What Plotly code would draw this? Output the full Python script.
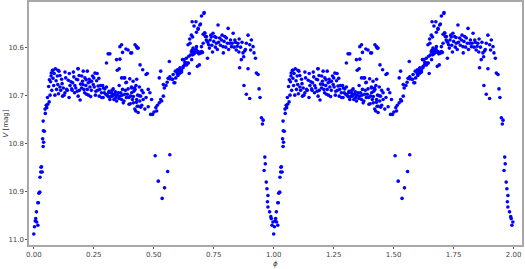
import plotly.graph_objects as go

# One cycle of the light curve: orbital phase (0..1) and V magnitude
phase = [
    # primary-eclipse egress
    0.000, 0.003, 0.008, 0.006, 0.011, 0.017, 0.012, 0.017, 0.021, 0.025, 0.019,
    0.026, 0.029, 0.032, 0.035, 0.030, 0.039, 0.041, 0.037, 0.040, 0.044, 0.039,
    0.048, 0.047, 0.052, 0.058, 0.054, 0.064, 0.057,
    # plateau start
    0.062, 0.065, 0.068, 0.070, 0.072, 0.075, 0.078, 0.080, 0.083, 0.085, 0.088,
    0.090, 0.093, 0.095, 0.098, 0.100, 0.103, 0.105, 0.073, 0.080, 0.101,
    # plateau
    0.109, 0.116, 0.123, 0.109, 0.130, 0.120, 0.137, 0.144, 0.151, 0.158, 0.162,
    0.167, 0.171, 0.178, 0.181, 0.185, 0.189, 0.195, 0.199, 0.203, 0.209, 0.213,
    0.217, 0.220, 0.227, 0.231, 0.234, 0.237, 0.241, 0.248, 0.250, 0.255, 0.259,
    0.264, 0.268, 0.273, 0.275, 0.282, 0.287, 0.289, 0.296, 0.300, 0.303, 0.310,
    0.314, 0.317, 0.324, 0.328, 0.331, 0.334, 0.338, 0.342, 0.345, 0.352, 0.356,
    0.359, 0.366, 0.370, 0.373, 0.379, 0.384, 0.386, 0.393, 0.397, 0.403, 0.407,
    0.411, 0.417, 0.421, 0.425, 0.431, 0.435, 0.439, 0.386, 0.379, 0.400, 0.414,
    0.112, 0.118, 0.126, 0.133, 0.140, 0.147, 0.155, 0.160, 0.165, 0.170, 0.175,
    0.183, 0.190, 0.193, 0.200, 0.205, 0.212, 0.218, 0.223, 0.228, 0.235, 0.240,
    0.245, 0.252, 0.257, 0.262, 0.266, 0.271, 0.278, 0.283, 0.290, 0.294, 0.184,
    0.305, 0.312, 0.320, 0.326, 0.333, 0.340, 0.348, 0.355, 0.362, 0.368, 0.376,
    0.382, 0.390, 0.396, 0.402, 0.408, 0.415, 0.420, 0.428, 0.433, 0.442, 0.446,
    0.450,
    # upper scattered points
    0.359, 0.366, 0.317, 0.310, 0.303, 0.345, 0.359, 0.370, 0.384, 0.393, 0.404,
    0.428, 0.435, 0.348, 0.356, 0.375, 0.366, 0.185, 0.206, 0.223, 0.130, 0.148,
    0.422, 0.431, 0.408, 0.443, 0.454, 0.468, 0.473,
    # dip around 0.45-0.55
    0.429, 0.426, 0.408, 0.422, 0.440, 0.456, 0.445, 0.456, 0.468, 0.477, 0.484,
    0.491, 0.429, 0.415, 0.436, 0.450, 0.463, 0.477, 0.487, 0.495, 0.501, 0.509,
    0.515, 0.523, 0.529, 0.533, 0.512, 0.540, 0.544, 0.540, 0.551, 0.556, 0.529,
    0.523,
    # faint outliers
    0.506, 0.567, 0.558, 0.519, 0.545, 0.535,
    # rise to maximum
    0.565, 0.567, 0.579, 0.584, 0.592, 0.598, 0.602, 0.609, 0.606, 0.616, 0.623,
    0.630, 0.620, 0.637, 0.644, 0.648, 0.658, 0.662, 0.667, 0.676, 0.671, 0.678,
    0.685, 0.692, 0.690, 0.560, 0.567, 0.576, 0.588, 0.581, 0.590, 0.599, 0.601,
    0.608, 0.615, 0.622, 0.629, 0.632, 0.626, 0.636, 0.643, 0.646, 0.654, 0.657,
    0.660, 0.664, 0.668, 0.674, 0.678, 0.682, 0.692, 0.699, 0.685, 0.688, 0.696,
    0.703, 0.671,
    # maximum
    0.651, 0.662, 0.685, 0.676, 0.695, 0.709, 0.713, 0.720, 0.723, 0.706, 0.699,
    0.643, 0.650, 0.657, 0.668, 0.660, 0.678, 0.685, 0.692, 0.699, 0.710, 0.706,
    0.712, 0.715, 0.719, 0.724, 0.729, 0.738, 0.740, 0.747, 0.754, 0.761, 0.768,
    0.775, 0.782, 0.789, 0.796, 0.803, 0.810, 0.817, 0.824, 0.831, 0.838, 0.844,
    0.851, 0.856, 0.858, 0.865, 0.872, 0.879, 0.886, 0.893, 0.900, 0.904, 0.907,
    0.914, 0.918, 0.924, 0.928, 0.893,
    0.725, 0.732, 0.735, 0.742, 0.745, 0.750, 0.757, 0.760, 0.765, 0.770, 0.778,
    0.785, 0.790, 0.793, 0.800, 0.807, 0.812, 0.820, 0.827, 0.835, 0.840, 0.848,
    0.855, 0.862, 0.868, 0.875, 0.882,
    # descent and primary-eclipse ingress
    0.876, 0.886, 0.900, 0.935, 0.939, 0.943, 0.949, 0.953, 0.956,
    0.963, 0.965, 0.960, 0.969, 0.972, 0.976, 0.974, 0.976, 0.983, 0.988, 0.990,
    0.993, 0.997,
]

vmag = [
    # primary-eclipse egress
    10.989, 10.974, 10.957, 10.962, 10.943, 10.971, 10.964, 10.924, 10.904, 10.902, 10.924,
    10.871, 10.860, 10.849, 10.860, 10.850, 10.807, 10.798, 10.791, 10.774, 10.775, 10.754,
    10.738, 10.729, 10.721, 10.719, 10.726, 10.714, 10.705,
    # plateau start
    10.682, 10.668, 10.700, 10.672, 10.660, 10.690, 10.648, 10.665, 10.680, 10.655, 10.700,
    10.645, 10.670, 10.688, 10.660, 10.678, 10.697, 10.650, 10.654, 10.648, 10.648,
    # plateau
    10.659, 10.667, 10.685, 10.683, 10.695, 10.702, 10.688, 10.669, 10.680, 10.687, 10.674,
    10.662, 10.680, 10.667, 10.692, 10.702, 10.659, 10.677, 10.685, 10.671, 10.688, 10.664,
    10.680, 10.698, 10.674, 10.667, 10.683, 10.703, 10.671, 10.678, 10.664, 10.654, 10.692,
    10.655, 10.681, 10.702, 10.688, 10.695, 10.680, 10.705, 10.687, 10.698, 10.683, 10.703,
    10.692, 10.709, 10.696, 10.702, 10.687, 10.709, 10.698, 10.705, 10.712, 10.695, 10.680,
    10.702, 10.709, 10.688, 10.716, 10.698, 10.674, 10.705, 10.687, 10.719, 10.702, 10.683,
    10.709, 10.692, 10.729, 10.733, 10.723, 10.736, 10.701, 10.673, 10.664, 10.666, 10.671,
    10.690, 10.676, 10.700, 10.664, 10.690, 10.705, 10.672, 10.690, 10.652, 10.695, 10.685,
    10.668, 10.690, 10.710, 10.660, 10.678, 10.695, 10.668, 10.688, 10.700, 10.672, 10.690,
    10.660, 10.683, 10.700, 10.670, 10.690, 10.665, 10.680, 10.705, 10.685, 10.695, 10.645,
    10.700, 10.695, 10.703, 10.690, 10.698, 10.693, 10.700, 10.707, 10.695, 10.700, 10.712,
    10.690, 10.698, 10.705, 10.718, 10.695, 10.703, 10.685, 10.715, 10.700, 10.712, 10.725,
    10.690,
    # upper scattered points
    10.599, 10.595, 10.614, 10.614, 10.633, 10.626, 10.625, 10.611, 10.604, 10.606, 10.612,
    10.599, 10.602, 10.648, 10.645, 10.664, 10.664, 10.645, 10.650, 10.650, 10.652, 10.655,
    10.595, 10.602, 10.612, 10.637, 10.647, 10.657, 10.655,
    # dip around 0.45-0.55
    10.667, 10.680, 10.685, 10.688, 10.683, 10.695, 10.702, 10.709, 10.705, 10.688, 10.695,
    10.709, 10.709, 10.716, 10.723, 10.721, 10.729, 10.724, 10.740, 10.740, 10.735, 10.726,
    10.721, 10.716, 10.709, 10.712, 10.733, 10.702, 10.685, 10.678, 10.680, 10.673, 10.650,
    10.664,
    # faint outliers
    10.826, 10.824, 10.859, 10.879, 10.893, 10.915,
    # rise to maximum
    10.630, 10.666, 10.667, 10.674, 10.664, 10.655, 10.648, 10.643, 10.650, 10.652, 10.640,
    10.632, 10.626, 10.637, 10.633, 10.655, 10.626, 10.616, 10.612, 10.604, 10.609, 10.599,
    10.609, 10.612, 10.637, 10.665, 10.662, 10.667, 10.674, 10.657, 10.650, 10.647, 10.659,
    10.655, 10.648, 10.643, 10.637, 10.632, 10.626, 10.623, 10.633, 10.619, 10.616, 10.609,
    10.606, 10.602, 10.614, 10.611, 10.607, 10.640, 10.612, 10.609, 10.611, 10.614, 10.612,
    10.611, 10.606,
    # maximum
    10.592, 10.579, 10.563, 10.547, 10.552, 10.530, 10.571, 10.578, 10.588, 10.592, 10.599,
    10.595, 10.583, 10.575, 10.556, 10.547, 10.569, 10.561, 10.554, 10.535, 10.528, 10.573,
    10.570, 10.578, 10.585, 10.623, 10.595, 10.575, 10.579, 10.571, 10.578, 10.592, 10.554,
    10.581, 10.585, 10.599, 10.578, 10.581, 10.561, 10.592, 10.599, 10.571, 10.585, 10.606,
    10.592, 10.583, 10.643, 10.626, 10.612, 10.608, 10.592, 10.575, 10.595, 10.606, 10.585,
    10.599, 10.612, 10.623, 10.654, 10.645,
    10.590, 10.602, 10.585, 10.596, 10.610, 10.588, 10.600, 10.580, 10.605, 10.590, 10.596,
    10.575, 10.612, 10.588, 10.600, 10.592, 10.605, 10.585, 10.592, 10.600, 10.590, 10.598,
    10.610, 10.600, 10.590, 10.620, 10.605,
    # descent and primary-eclipse ingress
    10.680, 10.698, 10.707, 10.657, 10.687, 10.705, 10.747, 10.760, 10.752,
    10.829, 10.843, 10.857, 10.881, 10.895, 10.909, 10.922, 10.933, 10.943, 10.953, 10.957,
    10.971, 10.964,
]

x_ticks = [0.0, 0.25, 0.5, 0.75, 1.0, 1.25, 1.5, 1.75, 2.0]
x_tick_labels = ["0.00", "0.25", "0.50", "0.75", "1.00", "1.25", "1.50", "1.75", "2.00"]
y_ticks = [10.6, 10.7, 10.8, 10.9, 11.0]
y_tick_labels = ["10.6", "10.7", "10.8", "10.9", "11.0"]

# plot phase and phase + 1 (two cycles)
x_all = phase + [p + 1 for p in phase]
y_all = vmag + vmag

fig = go.Figure()
fig.add_trace(go.Scatter(
    x=x_all, y=y_all, mode="markers",
    marker=dict(color="#0000ff", size=3.6, line=dict(width=0)),
    showlegend=False, hoverinfo="skip", cliponaxis=False,
))

axis_common = dict(
    showgrid=False, zeroline=False, showline=True, linecolor="#a8a8a8",
    linewidth=1.6, mirror=True, ticks="outside", ticklen=2, tickwidth=1,
    tickcolor="#555555", tickfont=dict(family="DejaVu Sans", size=7, color="#444444"),
    automargin=False,
)

fig.update_layout(
    width=525, height=269,
    margin=dict(l=29, r=3, t=2, b=24),
    paper_bgcolor="white", plot_bgcolor="white",
    hovermode=False,
    xaxis=dict(range=[-0.02, 2.035], tickmode="array", tickvals=x_ticks,
               ticktext=x_tick_labels, **axis_common),
    yaxis=dict(range=[11.012, 10.506], tickmode="array", tickvals=y_ticks,
               ticktext=y_tick_labels, **axis_common),
    annotations=[
        dict(text="<i>ϕ</i>", xref="paper", yref="paper", x=0.5, y=0,
             yshift=-14, xanchor="center", yanchor="top", showarrow=False,
             borderpad=0,
             font=dict(family="DejaVu Sans", size=7, color="#333333")),
        dict(text="<i>V</i> [mag]", xref="paper", yref="paper", x=0, y=0.5,
             xshift=-19, xanchor="right", yanchor="middle", textangle=-90,
             showarrow=False, borderpad=0,
             font=dict(family="DejaVu Sans", size=7, color="#333333")),
    ],
)

fig.write_html(
    "out.html",
    config={"displayModeBar": False, "staticPlot": True},
    post_script="document.body.style.margin='0';document.body.style.overflow='hidden';",
)
